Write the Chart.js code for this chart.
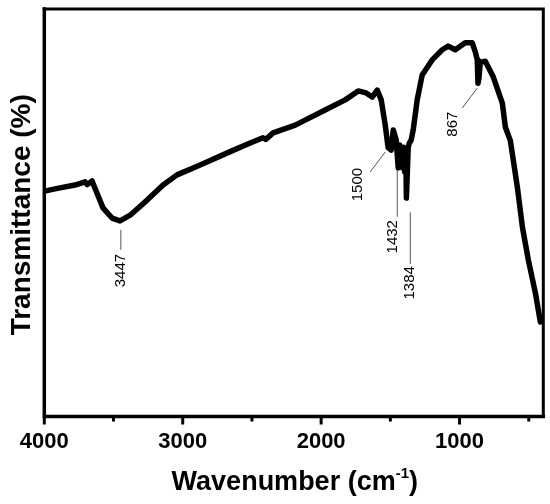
<!DOCTYPE html>
<html lang="en">
<head>
  <meta charset="UTF-8" />
  <title>FTIR Spectrum</title>
  <script src="https://cdn.jsdelivr.net/npm/chart.js"></script>
  <style>
    body {
      margin: 0;
      background: #fff;
    }
    #ftirChart {
      display: block;
    }
  </style>
</head>
<body>
  <canvas id="ftirChart" width="550" height="504"></canvas>

  <script>
    // spectrum (wavenumber in cm-1, transmittance in arbitrary %)
    const wavenumbers = [
      4000, 3887, 3778, 3706, 3690, 3655, 3619, 3576, 3511, 3453,
      3380, 3257, 3142, 3041, 2874, 2657, 2513, 2420, 2400, 2347,
      2187, 1971, 1826, 1732, 1675, 1631, 1595, 1566, 1537, 1516,
      1494, 1479, 1458, 1443, 1432, 1425, 1418, 1411, 1403, 1396,
      1389, 1384, 1378, 1371, 1364, 1349, 1335, 1306, 1270, 1198,
      1125, 1082, 1031, 959, 908, 886, 872, 867, 860, 850,
      814, 756, 691, 669, 633, 582, 546, 503, 452, 416, 402
    ];
    const transmittance = [
      55.3, 56.1, 56.8, 57.6, 56.9, 57.8, 54.8, 51.2, 48.7, 48.0,
      49.4, 53.1, 56.8, 59.3, 61.7, 65.0, 67.1, 68.4, 68.0, 69.6,
      71.5, 75.2, 77.7, 79.9, 79.4, 78.4, 80.1, 77.7, 71.5, 66.0,
      65.4, 70.3, 67.9, 61.0, 66.6, 61.7, 66.1, 61.0, 66.1, 60.0,
      65.4, 53.6, 59.3, 65.9, 67.0, 67.9, 70.3, 77.7, 83.8, 87.5,
      90.0, 90.9, 90.0, 91.7, 91.7, 89.4, 87.5, 81.8, 83.0, 86.9,
      87.2, 83.3, 76.9, 71.0, 67.7, 56.2, 46.5, 38.4, 30.3, 23.2, 24.4
    ];

    // peak labels
    const peakLabels = ["3447", "1500", "1432", "1384", "867"];

    // x axis ticks
    const majorTicks = [4000, 3000, 2000, 1000];
    const minorTicks = [3500, 2500, 1500, 500];

    const fontFamily = '"Liberation Sans", Arial, sans-serif';

    // leader line ends and text anchor for each peak label, in axis units
    const peakMarks = [
      { x1: 3447, y1: 45.8, x2: 3447, y2: 40.9, tx: 3447, ty: 39.9 },
      { x1: 1646, y1: 60.0, x2: 1537, y2: 64.9, tx: 1732, ty: 61.0 },
      { x1: 1450, y1: 60.5, x2: 1450, y2: 49.0, tx: 1479, ty: 48.2 },
      { x1: 1356, y1: 50.1, x2: 1356, y2: 37.4, tx: 1356, ty: 36.9 },
      { x1: 980, y1: 75.7, x2: 872, y2: 80.6, tx: 1045, ty: 74.8 }
    ];

    const frameAndLabels = {
      id: "frameAndLabels",
      afterDraw(chart) {
        const ctx = chart.ctx;
        const area = chart.chartArea;
        const xs = chart.scales.x;
        const ys = chart.scales.y;
        ctx.save();

        // frame
        ctx.strokeStyle = "#000";
        ctx.lineCap = "square";
        ctx.lineWidth = 3;
        ctx.beginPath();
        ctx.moveTo(area.left, area.top);
        ctx.lineTo(area.right, area.top);
        ctx.lineTo(area.right, area.bottom);
        ctx.stroke();
        ctx.lineWidth = 3.5;
        ctx.beginPath();
        ctx.moveTo(area.left, area.top);
        ctx.lineTo(area.left, area.bottom);
        ctx.lineTo(area.right, area.bottom);
        ctx.stroke();

        // tick marks
        ctx.lineWidth = 3;
        ctx.lineCap = "butt";
        majorTicks.forEach(v => {
          const px = xs.getPixelForValue(v);
          ctx.beginPath();
          ctx.moveTo(px, area.bottom);
          ctx.lineTo(px, area.bottom + 8);
          ctx.stroke();
        });
        minorTicks.forEach(v => {
          const px = xs.getPixelForValue(v);
          ctx.beginPath();
          ctx.moveTo(px, area.bottom);
          ctx.lineTo(px, area.bottom + 5);
          ctx.stroke();
        });

        // peak labels
        ctx.strokeStyle = "#555";
        ctx.lineWidth = 1;
        ctx.fillStyle = "#000";
        ctx.font = "15px " + fontFamily;
        peakMarks.forEach((m, i) => {
          ctx.beginPath();
          ctx.moveTo(xs.getPixelForValue(m.x1), ys.getPixelForValue(m.y1));
          ctx.lineTo(xs.getPixelForValue(m.x2), ys.getPixelForValue(m.y2));
          ctx.stroke();
          ctx.save();
          ctx.translate(xs.getPixelForValue(m.tx), ys.getPixelForValue(m.ty));
          ctx.rotate(-Math.PI / 2);
          ctx.textAlign = "right";
          ctx.textBaseline = "middle";
          ctx.fillText(peakLabels[i], 0, 0);
          ctx.restore();
        });

        // y title
        ctx.fillStyle = "#000";
        ctx.font = "bold 28px " + fontFamily;
        ctx.save();
        ctx.translate(30, (area.top + area.bottom) / 2 + 2);
        ctx.rotate(-Math.PI / 2);
        ctx.textAlign = "center";
        ctx.textBaseline = "alphabetic";
        ctx.fillText("Transmittance (%)", 0, 0);
        ctx.restore();

        // x title with superscript
        const mainText = "Wavenumber (cm";
        const supText = "-1";
        const endText = ")";
        ctx.font = "bold 27px " + fontFamily;
        const w1 = ctx.measureText(mainText).width;
        const w3 = ctx.measureText(endText).width;
        ctx.font = "bold 15px " + fontFamily;
        const w2 = ctx.measureText(supText).width;
        const cx = (area.left + area.right) / 2 + 1;
        let x0 = cx - (w1 + w2 + w3) / 2;
        const base = 490;
        ctx.textAlign = "left";
        ctx.textBaseline = "alphabetic";
        ctx.font = "bold 27px " + fontFamily;
        ctx.fillText(mainText, x0, base);
        ctx.font = "bold 15px " + fontFamily;
        ctx.fillText(supText, x0 + w1, base - 12);
        ctx.font = "bold 27px " + fontFamily;
        ctx.fillText(endText, x0 + w1 + w2, base);

        ctx.restore();
      }
    };

    const ctx = document.getElementById("ftirChart").getContext("2d");
    const ftirChart = new Chart(ctx, {
      type: "line",
      data: {
        datasets: [{
          label: "FTIR",
          data: wavenumbers.map((w, i) => ({ x: w, y: transmittance[i] })),
          borderColor: "#000",
          borderWidth: 5.5,
          pointRadius: 0,
          tension: 0,
          borderJoinStyle: "round",
          borderCapStyle: "round",
          fill: false
        }]
      },
      options: {
        responsive: false,
        animation: false,
        layout: {
          padding: { top: 9, right: 6.7, left: 0, bottom: 0 }
        },
        plugins: {
          legend: { display: false },
          tooltip: { enabled: false }
        },
        scales: {
          x: {
            type: "linear",
            reverse: true,
            min: 395,
            max: 4000,
            afterBuildTicks: scale => {
              scale.ticks = majorTicks.map(v => ({ value: v }));
            },
            afterFit: scale => {
              scale.height = 87.5;
            },
            grid: {
              display: true,
              drawOnChartArea: false,
              drawTicks: true,
              tickLength: 8,
              color: "rgba(0,0,0,0)"
            },
            border: { display: false },
            ticks: {
              color: "#000",
              padding: 4,
              maxRotation: 0,
              autoSkip: false,
              font: { family: fontFamily, size: 22, weight: "bold" },
              callback: v => String(v)
            }
          },
          y: {
            min: 0,
            max: 100,
            afterFit: scale => {
              scale.width = 44.3;
            },
            grid: { display: false },
            border: { display: false },
            ticks: { display: false }
          }
        }
      },
      plugins: [frameAndLabels]
    });
  </script>
</body>
</html>
